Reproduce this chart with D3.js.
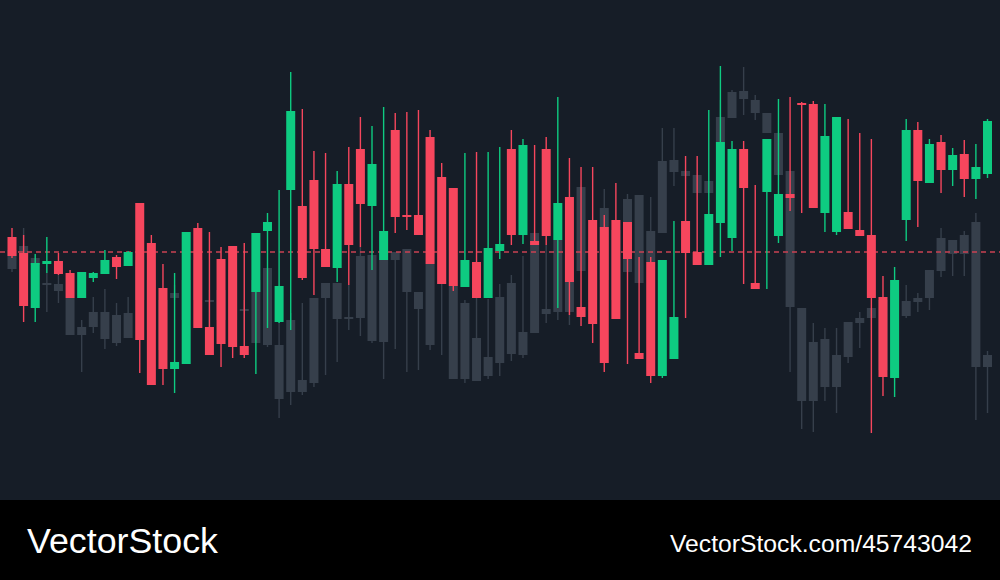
<!DOCTYPE html>
<meta charset="utf-8">
<head>
<script src="https://d3js.org/d3.v7.min.js"></script>
<style>
  body { margin: 0; background: #000; }
  svg { display: block; }
</style>
</head>
<body>
<script>

// foreground (coloured) candles, price units
var open  = [263,247,192,236,239,227,202,222,226,243,234,297,257,212,131,136,272,173,241,254,154,208,269,178,310,294,320,251,232,316,351,294,240,370,285,285,363,323,312,213,238,202,249,351,265,259,351,260,303,193,280,273,280,278,147,238,124,141,279,248,235,277,262,351,217,308,264,306,397,396,287,268,288,270,265,203,122,280,370,317,358,330,346,321,326];
var high  = [272,265,246,263,247,230,228,228,250,245,249,297,265,236,227,268,277,268,253,254,257,267,287,310,428,391,349,347,329,353,383,374,393,387,388,390,370,337,312,347,348,348,353,370,361,355,363,403,342,333,333,285,317,278,243,243,240,279,344,344,390,434,359,359,315,361,401,403,398,399,396,383,381,367,361,224,233,381,378,361,365,352,360,356,381];
var low   = [242,178,178,227,225,202,202,218,226,221,234,127,115,115,107,136,172,145,133,142,142,126,172,177,170,220,205,233,218,215,253,230,240,267,270,265,236,216,209,213,202,202,241,255,256,255,255,192,185,174,157,128,181,136,141,117,122,141,182,235,235,243,249,216,211,211,257,289,287,292,268,265,271,264,67,104,103,259,273,317,307,314,303,301,322];
var close = [244,194,237,239,226,202,228,227,240,233,248,160,115,131,138,268,172,145,156,153,145,267,278,214,389,222,251,233,316,255,296,336,269,283,283,265,236,216,214,240,202,252,256,265,355,255,264,297,218,183,176,137,181,241,141,124,240,183,247,235,286,358,351,312,211,361,306,302,395,292,364,383,271,264,202,123,220,370,319,356,330,345,321,333,379];

// background (grey) candles
var shadeOpen  = [250,254,242,217,216,202,173,188,188,185,187,240,220,200,207,220,240,200,210,230,191,220,232,155,180,120,202,217,217,183,244,245,240,248,251,208,236,250,214,197,162,143,203,217,168,267,191,260,240,313,260,292,270,301,305,269,339,340,329,325,319,383,408,409,400,387,367,329,192,158,161,145,178,182,192,200,210,199,202,230,262,260,265,278,145];
var shadeHigh  = [250,272,242,227,225,202,180,203,211,197,203,240,220,200,215,220,240,210,210,230,200,220,232,178,187,197,202,217,217,215,253,245,240,248,251,208,236,250,214,200,202,201,216,225,244,267,255,260,240,313,260,311,270,306,305,303,372,372,329,325,319,400,410,433,405,387,367,329,192,177,172,172,178,188,192,200,210,215,207,230,272,260,269,287,149];
var shadeLow   = [228,240,235,188,197,165,128,167,151,154,162,200,170,150,200,180,200,173,180,180,170,157,153,82,95,105,113,125,138,170,164,157,121,151,128,130,150,145,121,117,119,121,124,139,142,167,177,180,175,229,200,220,200,228,217,238,267,314,324,307,307,358,382,385,380,367,325,128,71,68,99,87,137,152,170,130,130,182,188,190,223,224,224,80,87];
var shadeClose = [231,240,235,215,209,165,165,173,161,157,162,200,170,150,202,180,200,198,180,180,189,157,155,101,108,108,117,202,181,181,182,159,158,240,208,191,155,216,121,121,119,124,137,146,145,167,186,188,188,229,200,220,200,228,217,238,267,328,324,307,307,358,382,401,387,367,325,193,99,99,113,113,143,177,182,130,130,184,198,202,229,246,246,133,133];

var refPrice = 248;   // dashed reference level
var brand = "VectorStock";
var brandUrl = "VectorStock.com/45743042";

var W = 1000, H = 580, chartH = 500;
var up = "#0ecb81", down = "#f6465d", shade = "#363f4b";

var x = d3.scaleLinear().domain([0, open.length - 1]).range([12, 987.5]);
var y = d3.scaleLinear().domain([0, 500]).range([chartH, 0]);
var bodyW = 9;

var svg = d3.select("body").append("svg")
    .attr("width", W)
    .attr("height", H);

svg.append("rect")
    .attr("width", W).attr("height", chartH)
    .attr("fill", "#161d27");

svg.append("rect")
    .attr("y", chartH).attr("width", W).attr("height", H - chartH)
    .attr("fill", "#000");

// grey candles behind
var shadeData = shadeOpen.map(function(o, i) {
  return {i: i, o: o, h: shadeHigh[i], l: shadeLow[i], c: shadeClose[i]};
});

var gShade = svg.append("g");
gShade.selectAll("line")
    .data(shadeData)
  .enter().append("line")
    .attr("x1", function(d) { return x(d.i); })
    .attr("x2", function(d) { return x(d.i); })
    .attr("y1", function(d) { return y(d.h); })
    .attr("y2", function(d) { return y(d.l); })
    .attr("stroke", shade)
    .attr("stroke-width", 1.4);
gShade.selectAll("rect")
    .data(shadeData)
  .enter().append("rect")
    .attr("x", function(d) { return x(d.i) - bodyW / 2; })
    .attr("width", bodyW)
    .attr("y", function(d) { return y(Math.max(d.o, d.c)); })
    .attr("height", function(d) { return Math.max(1.5, Math.abs(y(d.o) - y(d.c))); })
    .attr("fill", shade);

// reference line
svg.append("line")
    .attr("x1", 0).attr("x2", W)
    .attr("y1", y(refPrice)).attr("y2", y(refPrice))
    .attr("stroke", "#c94253")
    .attr("stroke-width", 1.5)
    .attr("stroke-dasharray", "5,4");

// coloured candles
var data = open.map(function(o, i) {
  return {i: i, o: o, h: high[i], l: low[i], c: close[i]};
});
function col(d) { return d.c >= d.o ? up : down; }

var g = svg.append("g");
g.selectAll("line")
    .data(data)
  .enter().append("line")
    .attr("x1", function(d) { return x(d.i); })
    .attr("x2", function(d) { return x(d.i); })
    .attr("y1", function(d) { return y(d.h); })
    .attr("y2", function(d) { return y(d.l); })
    .attr("stroke", col)
    .attr("stroke-width", 1.4);
g.selectAll("rect")
    .data(data)
  .enter().append("rect")
    .attr("x", function(d) { return x(d.i) - bodyW / 2; })
    .attr("width", bodyW)
    .attr("y", function(d) { return y(Math.max(d.o, d.c)); })
    .attr("height", function(d) { return Math.max(1.5, Math.abs(y(d.o) - y(d.c))); })
    .attr("fill", col);

// watermark band
svg.append("text")
    .attr("x", 27).attr("y", 553)
    .attr("textLength", 191)
    .attr("lengthAdjust", "spacingAndGlyphs")
    .style("font-family", "Liberation Sans, Arial, sans-serif")
    .style("font-size", "35px")
    .attr("fill", "#fff")
    .text(brand);

svg.append("text")
    .attr("x", 670).attr("y", 552)
    .attr("textLength", 302)
    .attr("lengthAdjust", "spacingAndGlyphs")
    .style("font-family", "Liberation Sans, Arial, sans-serif")
    .style("font-size", "24px")
    .attr("fill", "#fff")
    .text(brandUrl);

</script>
</body>
